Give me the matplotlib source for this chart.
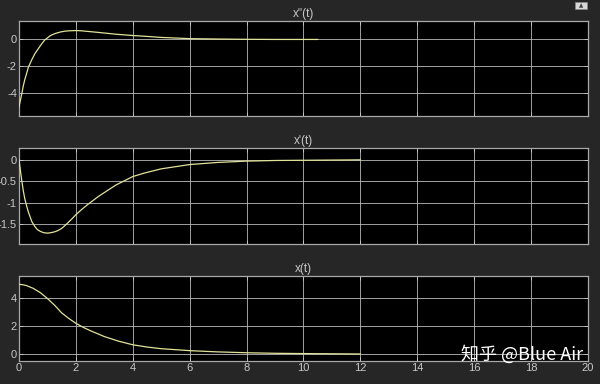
import matplotlib.pyplot as plt
from matplotlib.patches import Rectangle

plt.rcParams['font.family'] = ['Liberation Sans', 'DejaVu Sans']

# x''(t)
t_acc = [0, 0.05, 0.1, 0.15, 0.2, 0.27, 0.33, 0.45, 0.56, 0.7, 0.8, 0.9, 1.0, 1.1,
         1.2, 1.3, 1.45, 1.6, 1.75, 2.0, 2.2, 2.4, 2.8, 3.4, 4.0, 4.4, 5.0, 6.0,
         7.0, 8.0, 9.0, 10.5]
acc = [-5.0, -4.5, -4.0, -3.45, -3.0, -2.5, -2.05, -1.5, -1.05, -0.62, -0.32, -0.05,
       0.12, 0.28, 0.38, 0.46, 0.55, 0.61, 0.64, 0.66, 0.64, 0.6, 0.52, 0.39, 0.29,
       0.24, 0.15, 0.06, 0.03, 0.01, 0.0, 0.0]

# x'(t)
t_vel = [0, 0.05, 0.1, 0.15, 0.2, 0.27, 0.33, 0.45, 0.56, 0.65, 0.75, 0.87, 1.0,
         1.12, 1.25, 1.37, 1.5, 1.62, 1.75, 1.87, 2.0, 2.2, 2.4, 2.8, 3.4, 4.0, 4.4,
         5.0, 6.0, 7.0, 8.0, 9.0, 10.0, 12.0]
vel = [0, -0.26, -0.5, -0.72, -0.9, -1.08, -1.22, -1.44, -1.56, -1.63, -1.67, -1.7,
       -1.71, -1.7, -1.68, -1.65, -1.6, -1.53, -1.45, -1.37, -1.28, -1.16, -1.05,
       -0.85, -0.59, -0.39, -0.31, -0.21, -0.11, -0.06, -0.03, -0.015, -0.01, 0.0]

# x(t)
t_pos = [0, 0.1, 0.25, 0.5, 0.75, 1.0, 1.25, 1.5, 1.75, 2.0, 2.25, 2.5, 3.0, 3.5,
         4.0, 4.5, 5.0, 6.0, 7.0, 8.0, 9.0, 10.0, 12.0]
pos = [5.0, 4.98, 4.92, 4.71, 4.4, 3.98, 3.5, 2.95, 2.55, 2.2, 1.92, 1.68, 1.25,
       0.92, 0.66, 0.5, 0.38, 0.24, 0.15, 0.09, 0.05, 0.03, 0.0]

titles = ["x''(t)", "x'(t)", "x(t)"]
xticks = list(range(0, 21, 2))

bg = '#262626'
fg = '#c8c8c8'
line_c = '#e2e29a'

fig = plt.figure(figsize=(6, 3.84), dpi=100, facecolor=bg)

boxes = [
    [0.0317, 0.698, 0.948, 0.247],
    [0.0317, 0.365, 0.948, 0.250],
    [0.0317, 0.060, 0.948, 0.221],
]
series = [(t_acc, acc), (t_vel, vel), (t_pos, pos)]
ylims = [(-5.68, 1.36), (-1.96, 0.28), (-0.5, 5.59)]
yticks = [[-4, -2, 0], [-1.5, -1, -0.5, 0], [0, 2, 4]]
ylabels = [['-4', '-2', '0'], ['-1.5', '-1', '-0.5', '0'], ['0', '2', '4']]

for i in range(3):
    ax = fig.add_axes(boxes[i])
    ax.set_facecolor('black')
    t, v = series[i]
    ax.plot(t, v, color=line_c, lw=0.9, zorder=3)
    ax.set_xlim(0, 20)
    ax.set_ylim(*ylims[i])
    ax.set_xticks(xticks)
    ax.set_yticks(yticks[i])
    ax.set_yticklabels(ylabels[i])
    if i < 2:
        ax.set_xticklabels([])
    ax.grid(True, color='#bdbdbd', lw=0.7, alpha=0.85)
    ax.tick_params(colors=fg, labelsize=8, direction='in', length=3, width=0.6,
                   top=True, right=True, pad=1.5)
    for s in ax.spines.values():
        s.set_color('#a8a8a8')
        s.set_linewidth(0.9)
    ax.set_title(titles[i], color=fg, fontsize=8.5, pad=3)

# small undock icon at the top right
fig.patches.append(Rectangle((0.958, 0.976), 0.02, 0.02, transform=fig.transFigure,
                             facecolor='#d8d8d8', edgecolor='#888888', lw=0.5))
fig.text(0.968, 0.986, '▲', color='#404040', fontsize=4, ha='center', va='center',
         family=['DejaVu Sans'])

fig.text(0.972, 0.076, '知乎 @Blue Air', color='white', fontsize=13,
         ha='right', va='center', family=['Noto Sans CJK SC', 'DejaVu Sans'])

fig.savefig('out.png', dpi=100, facecolor=bg)
